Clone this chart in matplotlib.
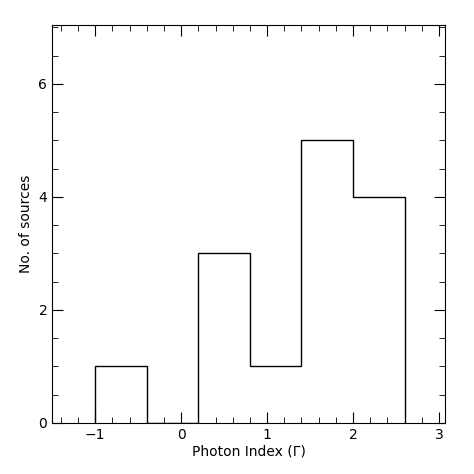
import matplotlib
matplotlib.use("Agg")
import matplotlib.pyplot as plt
from matplotlib.ticker import MultipleLocator

bin_edges = [-1.0, -0.4, 0.2, 0.8, 1.4, 2.0, 2.6]
counts = [1, 0, 3, 1, 5, 4]

fig = plt.figure(figsize=(4.74, 4.74), dpi=100)
ax = fig.add_axes([0.11, 0.108, 0.829, 0.839])
ax.stairs(counts, bin_edges, color="black", linewidth=1.0)
ax.set_xlim(-1.5, 3.07)
ax.set_ylim(0, 7.04)
ax.xaxis.set_major_locator(MultipleLocator(1))
ax.xaxis.set_minor_locator(MultipleLocator(0.2))
ax.yaxis.set_major_locator(MultipleLocator(2))
ax.yaxis.set_minor_locator(MultipleLocator(0.5))
ax.tick_params(which="both", direction="in", top=True, right=True, labelsize=10)
ax.tick_params(which="major", length=8)
ax.tick_params(which="minor", length=4)
ax.set_xlabel("Photon Index (Γ)", fontsize=10, labelpad=2)
ax.set_ylabel("No. of sources", fontsize=10)
fig.savefig("out.png", dpi=100)
